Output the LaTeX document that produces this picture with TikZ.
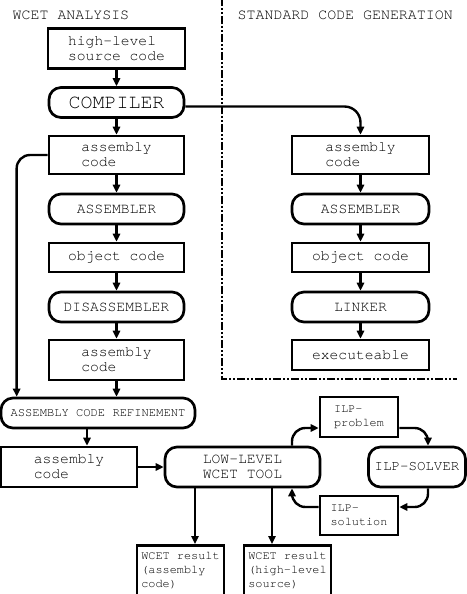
\documentclass[tikz,border=0pt]{standalone}
\usepackage{fontspec}
\setmainfont{TeX Gyre Cursor}
\usetikzlibrary{arrows.meta}
\begin{document}
\begin{tikzpicture}[x=0.75pt,y=-0.75pt,
  wh/.style 2 args={minimum width=#1*0.75pt,minimum height=#2*0.75pt},
  box/.style={draw,line width=2pt,inner sep=0pt,align=left,font=\fontsize{11}{11.5}\selectfont},
  rbox/.style={box,rounded corners=9pt},
  smallf/.style={font=\fontsize{8.9}{10.5}\selectfont},
  res/.style={box,smallf,inner xsep=2pt,inner ysep=5pt,anchor=north,minimum width=87*0.75pt},
  arr/.style={line width=1.8pt,-{Triangle[length=6pt,width=5.5pt]}},
  sep/.style={line width=1.5pt,dash pattern=on 6pt off 1.5pt on 1.5pt off 1.5pt on 1.5pt off 1.5pt},
  title/.style={anchor=west,font=\fontsize{11.2}{12}\selectfont}]
\useasboundingbox (0,0) rectangle (467,594);
\fill[white] (0,0) rectangle (467,594);
\clip (0,0) rectangle (467,594);

\node[title] (t1) at (8,15) {WCET ANALYSIS};
\node[title] (t2) at (233,15) {STANDARD CODE GENERATION};

\draw[sep] (222,-2) -- (222,379) -- (457,379);

% left column
\node[box,wh={137}{40}] (hl) at (116.5,48.5) {high-level\\source code};
\node[rbox,wh={135}{30},font=\fontsize{15}{15}\selectfont] (comp) at (116.5,102.5) {COMPILER};
\node[box,wh={135}{38}] (asmL) at (116.5,155) {assembly\\code};
\node[rbox,wh={135}{30}] (asmbL) at (116.5,209) {ASSEMBLER};
\node[box,wh={135}{29}] (objL) at (116.5,257.5) {object code};
\node[rbox,wh={135}{30}] (dis) at (116.5,307) {DISASSEMBLER};
\node[box,wh={135}{40}] (asm2) at (116.5,360) {assembly\\code};
\node[rbox,wh={194}{30},font=\fontsize{9.1}{10}\selectfont] (ref) at (98,413) {ASSEMBLY CODE REFINEMENT};
\node[box,wh={136}{40}] (asm3) at (69,467) {assembly\\code};
\node[rbox,wh={155}{40}] (low) at (242.5,467) {LOW-LEVEL\\WCET TOOL};
\node[box,wh={78}{40},smallf] (ilpP) at (359,417) {ILP-\\problem};
\node[rbox,wh={97}{40},font=\fontsize{10.6}{11}\selectfont] (ilpS) at (417,467) {ILP-SOLVER};
\node[box,wh={78}{39},smallf] (ilpSol) at (359,515.5) {ILP-\\solution};
\node[res] (res1) at (180.5,544) {WCET result\\(assembly\\code)};
\node[res] (res2) at (287.5,544) {WCET result\\(high-level\\source)};

% right column
\node[box,wh={137}{38}] (asmR) at (360.5,155) {assembly\\code};
\node[rbox,wh={137}{30}] (asmbR) at (360.5,209) {ASSEMBLER};
\node[box,wh={137}{29}] (objR) at (360.5,257.5) {object code};
\node[rbox,wh={137}{30}] (link) at (360.5,307) {LINKER};
\node[box,wh={137}{30}] (exe) at (360.5,355) {executeable};

% helper coordinates
\coordinate (x1) at (195,0);
\coordinate (x2) at (292,428);
\coordinate (x3) at (428,507);
\coordinate (x4) at (87,0);
\coordinate (x5) at (272,0);

% arrows
\draw[arr] (hl.south) -- (comp.north);
\draw[arr] (comp.south) -- (asmL.north);
\draw[arr] (asmL.south) -- (asmbL.north);
\draw[arr] (asmbL.south) -- (objL.north);
\draw[arr] (objL.south) -- (dis.north);
\draw[arr] (dis.south) -- (asm2.north);
\draw[arr] (asm2.south) -- (asm2.south |- ref.north);
\draw[arr,rounded corners=10pt] (asmL.west) -| ([xshift=12.75pt]ref.north west);
\draw[arr,rounded corners=12pt] ([yshift=-3pt]comp.east) -| (asmR.north);
\draw[arr] (asmR.south) -- (asmbR.north);
\draw[arr] (asmbR.south) -- (objR.north);
\draw[arr] (objR.south) -- (link.north);
\draw[arr] (link.south) -- (exe.north);
\draw[arr] (ref.south -| x4) -- (asm3.north -| x4);
\draw[arr] (asm3.east) -- (low.west);
\draw[arr] (low.south -| x1) -- (res1.north -| x1);
\draw[arr] (low.south -| x5) -- (res2.north -| x5);
\draw[arr,rounded corners=10pt] (low.north -| x2) |- (ilpP.west |- x2);
\draw[arr,rounded corners=10pt] (ilpP.east |- x2) -| (ilpS.north -| x3);
\draw[arr,rounded corners=10pt] (ilpS.south -| x3) |- (ilpSol.east |- x3);
\draw[arr,rounded corners=10pt] (ilpSol.west |- x3) -| (low.south -| x2);
\end{tikzpicture}
\end{document}
